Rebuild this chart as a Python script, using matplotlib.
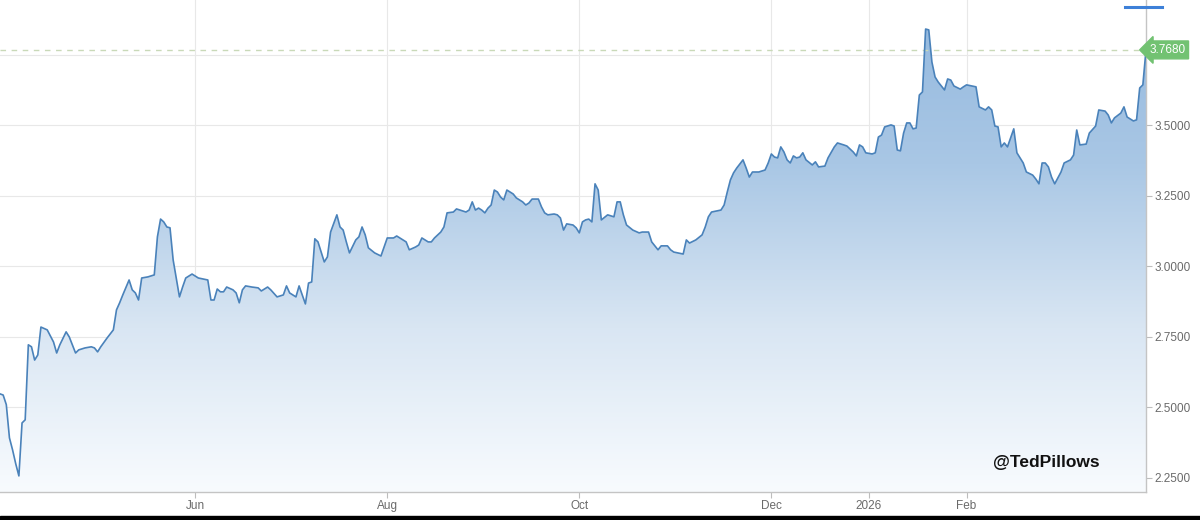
import numpy as np
import pandas as pd
import matplotlib
matplotlib.use("Agg")
import matplotlib.pyplot as plt
import matplotlib.dates as mdates
from matplotlib.colors import LinearSegmentedColormap
from matplotlib.patches import Rectangle
from matplotlib.lines import Line2D

plt.rcParams['font.family'] = ['Liberation Sans', 'DejaVu Sans']

### data
dates = [
    "2025-03-31", "2025-04-01", "2025-04-02", "2025-04-03", "2025-04-04", "2025-04-05", "2025-04-06",
    "2025-04-07", "2025-04-08", "2025-04-09", "2025-04-10", "2025-04-11", "2025-04-12", "2025-04-13",
    "2025-04-15", "2025-04-17", "2025-04-18", "2025-04-19", "2025-04-21", "2025-04-22", "2025-04-24",
    "2025-04-25", "2025-04-27", "2025-04-29", "2025-04-30",
    "2025-05-01", "2025-05-02", "2025-05-04", "2025-05-06", "2025-05-07", "2025-05-08", "2025-05-09",
    "2025-05-11", "2025-05-12", "2025-05-13", "2025-05-14", "2025-05-15", "2025-05-17", "2025-05-19",
    "2025-05-20", "2025-05-21", "2025-05-22", "2025-05-23", "2025-05-24", "2025-05-25", "2025-05-27",
    "2025-05-28", "2025-05-29", "2025-05-31",
    "2025-06-02", "2025-06-05", "2025-06-06", "2025-06-07", "2025-06-08", "2025-06-09", "2025-06-10",
    "2025-06-11", "2025-06-13", "2025-06-14", "2025-06-15", "2025-06-16", "2025-06-17", "2025-06-19",
    "2025-06-21", "2025-06-22", "2025-06-24", "2025-06-25", "2025-06-27", "2025-06-29", "2025-06-30",
    "2025-07-01", "2025-07-03", "2025-07-04", "2025-07-05", "2025-07-06", "2025-07-07", "2025-07-08",
    "2025-07-09", "2025-07-10", "2025-07-12", "2025-07-13", "2025-07-14", "2025-07-16", "2025-07-17",
    "2025-07-18", "2025-07-19", "2025-07-20", "2025-07-22", "2025-07-23", "2025-07-24", "2025-07-25",
    "2025-07-26", "2025-07-28", "2025-07-30", "2025-07-31",
    "2025-08-01", "2025-08-03", "2025-08-04", "2025-08-07", "2025-08-08", "2025-08-10", "2025-08-11",
    "2025-08-12", "2025-08-14", "2025-08-15", "2025-08-16", "2025-08-18", "2025-08-19", "2025-08-20",
    "2025-08-22", "2025-08-23", "2025-08-26", "2025-08-27", "2025-08-28", "2025-08-29", "2025-08-30",
    "2025-08-31",
    "2025-09-01", "2025-09-02", "2025-09-03", "2025-09-04", "2025-09-05", "2025-09-06", "2025-09-07",
    "2025-09-08", "2025-09-10", "2025-09-11", "2025-09-13", "2025-09-14", "2025-09-15", "2025-09-16",
    "2025-09-18", "2025-09-19", "2025-09-20", "2025-09-21", "2025-09-23", "2025-09-24", "2025-09-25",
    "2025-09-26", "2025-09-27", "2025-09-29", "2025-09-30",
    "2025-10-01", "2025-10-02", "2025-10-03", "2025-10-04", "2025-10-05", "2025-10-06", "2025-10-07",
    "2025-10-08", "2025-10-10", "2025-10-12", "2025-10-13", "2025-10-14", "2025-10-15", "2025-10-16",
    "2025-10-18", "2025-10-20", "2025-10-21", "2025-10-23", "2025-10-24", "2025-10-26", "2025-10-27",
    "2025-10-29", "2025-10-30", "2025-10-31",
    "2025-11-03", "2025-11-04", "2025-11-05", "2025-11-07", "2025-11-09", "2025-11-10", "2025-11-11",
    "2025-11-12", "2025-11-15", "2025-11-16", "2025-11-17", "2025-11-18", "2025-11-19", "2025-11-20",
    "2025-11-22", "2025-11-23", "2025-11-24", "2025-11-25", "2025-11-27", "2025-11-29", "2025-11-30",
    "2025-12-01", "2025-12-02", "2025-12-03", "2025-12-04", "2025-12-05", "2025-12-06", "2025-12-07",
    "2025-12-08", "2025-12-09", "2025-12-10", "2025-12-11", "2025-12-12", "2025-12-14", "2025-12-15",
    "2025-12-16", "2025-12-18", "2025-12-19", "2025-12-21", "2025-12-22", "2025-12-24", "2025-12-25",
    "2025-12-27", "2025-12-28", "2025-12-29", "2025-12-30", "2025-12-31",
    "2026-01-02", "2026-01-03", "2026-01-04", "2026-01-05", "2026-01-06", "2026-01-08", "2026-01-09",
    "2026-01-10", "2026-01-11", "2026-01-12", "2026-01-13", "2026-01-14", "2026-01-15", "2026-01-16",
    "2026-01-17", "2026-01-18", "2026-01-19", "2026-01-20", "2026-01-21", "2026-01-22", "2026-01-23",
    "2026-01-25", "2026-01-26", "2026-01-27", "2026-01-28", "2026-01-30", "2026-01-31",
    "2026-02-01", "2026-02-04", "2026-02-05", "2026-02-07", "2026-02-08", "2026-02-09", "2026-02-10",
    "2026-02-11", "2026-02-12", "2026-02-13", "2026-02-14", "2026-02-16", "2026-02-17", "2026-02-18",
    "2026-02-19", "2026-02-20", "2026-02-22", "2026-02-23", "2026-02-24", "2026-02-25", "2026-02-26",
    "2026-02-27", "2026-02-28",
    "2026-03-01", "2026-03-03", "2026-03-04", "2026-03-06", "2026-03-07", "2026-03-08", "2026-03-09",
    "2026-03-11", "2026-03-12", "2026-03-14", "2026-03-15", "2026-03-17", "2026-03-18", "2026-03-19",
    "2026-03-20", "2026-03-22", "2026-03-23", "2026-03-24", "2026-03-26", "2026-03-27", "2026-03-28",
    "2026-03-29", "2026-03-30",
]

yields = [
    2.548, 2.544, 2.51, 2.392, 2.349, 2.30, 2.257,
    2.445, 2.456, 2.722, 2.715, 2.668, 2.686, 2.785,
    2.775, 2.732, 2.693, 2.722, 2.768, 2.75, 2.693,
    2.704, 2.711, 2.715, 2.711,
    2.697, 2.715, 2.746, 2.775, 2.846, 2.871, 2.899,
    2.952, 2.917, 2.906, 2.881, 2.959, 2.963, 2.97,
    3.105, 3.168, 3.158, 3.14, 3.137, 3.023, 2.892,
    2.927, 2.959, 2.973,
    2.959, 2.952, 2.881, 2.881, 2.92, 2.91, 2.91,
    2.927, 2.917, 2.906, 2.871, 2.917, 2.931, 2.927,
    2.924, 2.913, 2.927, 2.917, 2.892, 2.899, 2.931,
    2.906, 2.892, 2.931, 2.899, 2.867, 2.941, 2.945,
    3.098, 3.087, 3.016, 3.034, 3.122, 3.183, 3.14,
    3.129, 3.087, 3.048, 3.094, 3.105, 3.14, 3.112,
    3.066, 3.048, 3.037, 3.069,
    3.101, 3.101, 3.108, 3.087, 3.059, 3.069, 3.076,
    3.101, 3.087, 3.087, 3.101, 3.122, 3.14, 3.19,
    3.193, 3.204, 3.193, 3.2, 3.229, 3.2, 3.207,
    3.2,
    3.19, 3.207, 3.218, 3.271, 3.264, 3.246, 3.236,
    3.271, 3.257, 3.243, 3.229, 3.218, 3.225, 3.239,
    3.239, 3.211, 3.19, 3.183, 3.186, 3.183, 3.172,
    3.129, 3.151, 3.147, 3.137,
    3.119, 3.158, 3.165, 3.168, 3.158, 3.293, 3.271,
    3.165, 3.183, 3.176, 3.229, 3.229, 3.183, 3.147,
    3.129, 3.119, 3.122, 3.122, 3.087, 3.059, 3.073,
    3.073, 3.059, 3.051,
    3.044, 3.094, 3.083, 3.094, 3.112, 3.14, 3.176,
    3.193, 3.2, 3.218, 3.264, 3.307, 3.332, 3.349,
    3.378, 3.349, 3.317, 3.335, 3.335, 3.342, 3.367,
    3.399, 3.388, 3.385, 3.424, 3.406, 3.378, 3.367,
    3.392, 3.385, 3.388, 3.403, 3.378, 3.36, 3.371,
    3.353, 3.356, 3.385, 3.424, 3.438, 3.431, 3.427,
    3.406, 3.392, 3.431, 3.424, 3.403,
    3.399, 3.403, 3.459, 3.466, 3.495, 3.502, 3.498,
    3.413, 3.41, 3.473, 3.509, 3.509, 3.488, 3.491,
    3.608, 3.619, 3.842, 3.839, 3.725, 3.672, 3.654,
    3.626, 3.665, 3.661, 3.64, 3.629, 3.637,
    3.644, 3.637, 3.566, 3.555, 3.566, 3.555, 3.498,
    3.495, 3.424, 3.438, 3.424, 3.488, 3.403, 3.385,
    3.367, 3.335, 3.324, 3.31, 3.293, 3.367, 3.367,
    3.353, 3.317,
    3.293, 3.335, 3.367, 3.378, 3.395, 3.484, 3.431,
    3.434, 3.473, 3.498, 3.555, 3.551, 3.537, 3.509,
    3.527, 3.544, 3.566, 3.53, 3.516, 3.52, 3.633,
    3.644, 3.768,
]

tick_dates = ["2025-06-01", "2025-08-01", "2025-10-01", "2025-12-01", "2026-01-01", "2026-02-01"]
tick_labels = ["Jun", "Aug", "Oct", "Dec", "2026", "Feb"]
y_ticks = [2.25, 2.50, 2.75, 3.00, 3.25, 3.50, 3.75]
last_value = 3.768

x = pd.to_datetime(dates)
y = np.array(yields)

fig = plt.figure(figsize=(12, 5.2), dpi=100)
ax = fig.add_axes([0.0, 28/520, 1146/1200, 492/520])

ymin, ymax = 2.20, 3.945
x0, x1 = pd.Timestamp("2025-03-31"), pd.Timestamp("2026-03-30")
ax.set_xlim(x0, x1)
ax.set_ylim(ymin, ymax)

### gradient fill under the line
cmap = LinearSegmentedColormap.from_list("fill", ["#f8fbfe", "#d9e6f3", "#a9c7e5", "#93b8de"])
grad = np.linspace(0, 1, 256).reshape(-1, 1)
im = ax.imshow(grad, cmap=cmap, origin="lower", aspect="auto",
               extent=[mdates.date2num(x0), mdates.date2num(x1), ymin, ymax], zorder=1)
poly = ax.fill_between(x, y, ymin, color="none", lw=0)
im.set_clip_path(poly.get_paths()[0], transform=ax.transData)

ax.plot(x, y, color="#4a82ba", lw=1.2, zorder=3)
ax.plot(x[-1], y[-1], "o", color="#2fb8d8", ms=4, zorder=4)

### grid and axes
ax.set_xticks(pd.to_datetime(tick_dates))
ax.set_xticklabels(tick_labels)
ax.set_yticks(y_ticks)
# the 3.7500 label sits under the last-value tag
ax.set_yticklabels(["%.4f" % v if v < 3.7 else "" for v in y_ticks])
ax.yaxis.tick_right()
ax.grid(True, color="#e8e8e8", lw=0.8, zorder=0)
ax.set_axisbelow(True)
for s in ["top", "left"]:
    ax.spines[s].set_visible(False)
for s in ["bottom", "right"]:
    ax.spines[s].set_color("#c4c4c4")
    ax.spines[s].set_linewidth(1.0)
ax.tick_params(axis="both", colors="#bdbdbd", labelcolor="#6a6a6a", labelsize=8.5, length=4, width=0.8)
ax.tick_params(axis="x", pad=2)
ax.tick_params(axis="y", pad=2)

### last value line and label
ax.axhline(last_value, color="#c9d9b8", lw=1, ls=(0, (4, 4)), zorder=2)
ax.text(1.003, last_value, "%.4f" % last_value, transform=ax.get_yaxis_transform(),
        ha="left", va="center", color="white", fontsize=8.5, zorder=5, clip_on=False,
        bbox=dict(boxstyle="larrow,pad=0.25", fc="#72c272", ec="#72c272"))

fig.text(1046/1200, 1 - 463/520, "@TedPillows", ha="center", va="center",
         fontsize=12.5, fontweight="bold", color="#111111")

fig.add_artist(Line2D([1125/1200, 1162/1200], [1 - 7/520, 1 - 7/520], color="#3d80d8", lw=2.2))
fig.add_artist(Rectangle((0, 0), 1, 4/520, color="black", transform=fig.transFigure))

fig.savefig("out.png", dpi=100)
